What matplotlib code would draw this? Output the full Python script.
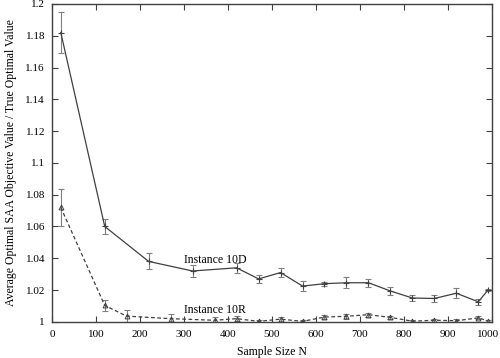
import matplotlib
matplotlib.use("Agg")
import matplotlib.pyplot as plt
import matplotlib.transforms as mtransforms

x_10d = [20, 120, 220, 320, 420, 470, 520, 570, 620, 670, 720, 770, 820, 870, 920, 970, 992]
y_10d = [1.182, 1.060, 1.038, 1.032, 1.034, 1.027, 1.031, 1.0225, 1.024, 1.0246, 1.0246,
         1.0194, 1.015, 1.0147, 1.018, 1.0126, 1.020]
e_10d = [0.013, 0.005, 0.005, 0.004, 0.003, 0.0026, 0.003, 0.003, 0.0012, 0.0033, 0.0024,
         0.0024, 0.0018, 0.0023, 0.003, 0.002, 0.0007]

x_10r = [20, 120, 170, 270, 370, 420, 470, 520, 570, 620, 670, 720, 770, 820, 870, 920, 970, 992]
y_10r = [1.072, 1.0103, 1.0036, 1.002, 1.001, 1.002, 1.0003, 1.0017, 1.0003, 1.003, 1.0035,
         1.0045, 1.0028, 1.0004, 1.001, 1.0007, 1.0025, 1.0006]
e_10r = [0.0115, 0.0035, 0.004, 0.003, 0.002, 0.0015, 0.001, 0.0015, 0.001, 0.0015, 0.0015,
         0.0012, 0.001, 0.0005, 0.001, 0.001, 0.001, 0.0005]

x_ticks = [0, 100, 200, 300, 400, 500, 600, 700, 800, 900, 1000]
y_ticks = [1.0, 1.02, 1.04, 1.06, 1.08, 1.1, 1.12, 1.14, 1.16, 1.18, 1.2]
y_ticklabels = ["1", "1.02", "1.04", "1.06", "1.08", "1.1", "1.12", "1.14", "1.16", "1.18", "1.2"]

plt.rcParams['font.family'] = ['Liberation Serif', 'DejaVu Serif']

fig = plt.figure(figsize=(5.0, 3.58), dpi=100)
ax = fig.add_axes([0.104, 0.101, 0.879, 0.888])

line_col = '#404040'
err_col = '#808080'

ax.errorbar(x_10d, y_10d, yerr=e_10d, fmt='none', ecolor=err_col, elinewidth=0.8,
            capsize=2.5, capthick=0.8, zorder=2)
ax.plot(x_10d, y_10d, color=line_col, lw=0.9, marker='+', ms=4, mew=0.8, zorder=3)

ax.errorbar(x_10r, y_10r, yerr=e_10r, fmt='none', ecolor=err_col, elinewidth=0.8,
            capsize=2.5, capthick=0.8, zorder=2)
ax.plot(x_10r, y_10r, color=line_col, lw=0.9, ls=(0, (3, 2)), marker='^', ms=3.5,
        mfc='none', mew=0.7, zorder=3)

ax.text(371, 1.039, "Instance 10D", fontsize=8.5, ha='center', va='center')
ax.text(371, 1.0075, "Instance 10R", fontsize=8.5, ha='center', va='center')

ax.set_xlim(0, 1000)
ax.set_ylim(1.0, 1.2)
ax.set_xticks(x_ticks)
ax.set_yticks(y_ticks)
ax.set_yticklabels(y_ticklabels)
ax.tick_params(direction='in', top=True, right=True, length=4, width=0.8,
               labelsize=8, color='#404040')
ax.tick_params(axis='x', pad=6)
ax.tick_params(axis='y', pad=5)
for s in ax.spines.values():
    s.set_linewidth(1.0)
    s.set_color('#404040')

ax.set_xlabel("Sample Size N", fontsize=8.5, labelpad=5)
ax.set_ylabel("Average Optimal SAA Objective Value / True Optimal Value", fontsize=8.5, labelpad=6)

# nudge the last x tick label so it stays inside the canvas
last = ax.get_xticklabels()[-1]
last.set_transform(last.get_transform() + mtransforms.ScaledTranslation(-3 / 100, 0, fig.dpi_scale_trans))

fig.savefig("out.png", dpi=100)
